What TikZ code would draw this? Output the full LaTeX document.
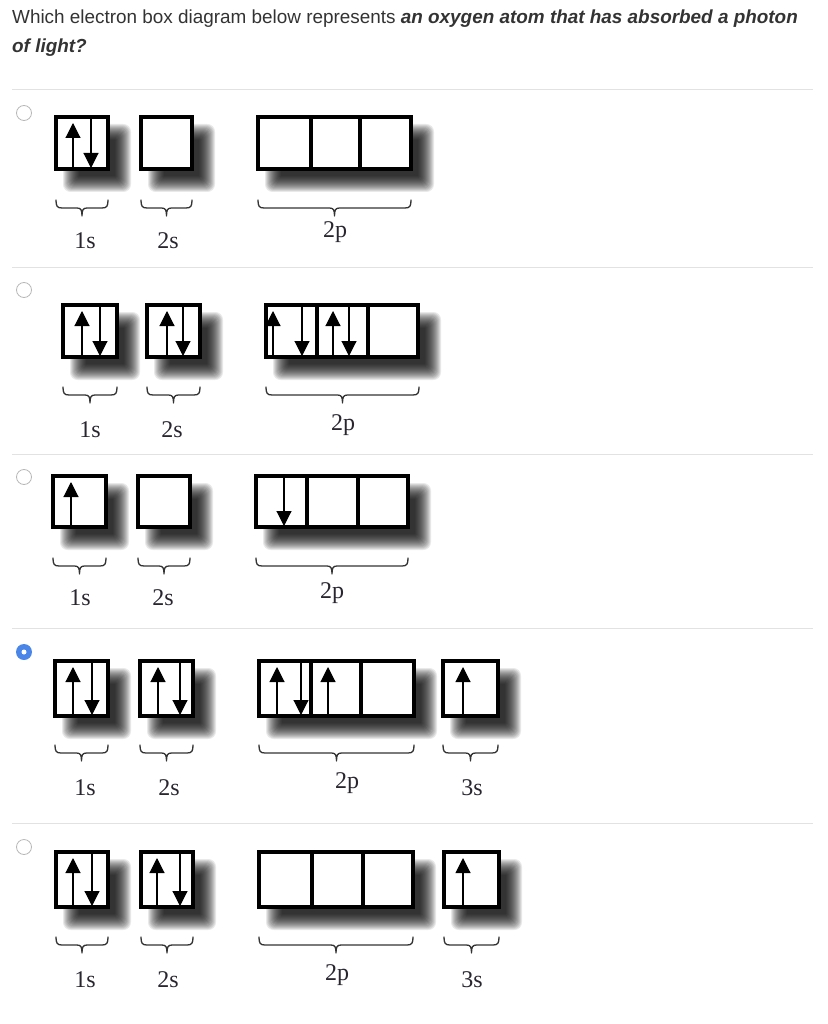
\documentclass[tikz,border=0pt]{standalone}
\usepackage{fontspec}
\setmainfont{Liberation Sans}
\newfontfamily\labfont{Liberation Serif}
\usetikzlibrary{arrows.meta}
\definecolor{txt}{HTML}{333333}
\definecolor{labc}{HTML}{2A2630}
\definecolor{sep}{HTML}{E2E2E2}
\definecolor{radio}{HTML}{B8B8B8}
\definecolor{selblue}{HTML}{4A86E8}
\tikzset{
  boxline/.style={line width=3.2pt, draw=black, fill=white},
  divline/.style={line width=3.2pt, draw=black},
  elec/.style={line width=1.1pt, -{Triangle[width=15pt,length=15pt]}},
  brc/.style={draw=txt, line width=1.3pt, line cap=round, line join=round},
  lab/.style={font=\labfont\fontsize{24}{24}\selectfont, text=labc, anchor=base, inner sep=0pt},
  sepline/.style={draw=sep, line width=1pt},
  radiobtn/.style={draw=radio, fill=white, line width=0.8pt},
}
\newcommand\shd[4]{%
  \foreach \k in {-8,...,8}{%
    \pgfmathsetmacro\rc{0.45*(\k+9)}%
    \fill[black,opacity=0.085,rounded corners=\rc pt] ({#1+15-\k},{#2+15-\k}) rectangle ({#3+15+\k},{#4+15+\k});
  }}
\newcommand\obox[4]{\draw[boxline] (#1,#2) rectangle (#3,#4);}
\newcommand\divl[3]{\draw[divline] (#1,#2) -- (#1,#3);}
\newcommand\upa[3]{\draw[elec] (#1,{#3-2}) -- (#1,{#2+6});}
\newcommand\dna[3]{\draw[elec] (#1,{#2+2}) -- (#1,{#3-1});}
% brace: x1 x2 ytop
\newcommand\brc[3]{%
  \draw[brc] (#1,#3) .. controls (#1,{#3+6}) and ({#1+1},{#3+8}) .. ({#1+6},{#3+8})
    -- ({(#1+#2)/2-5},{#3+8}) .. controls ({(#1+#2)/2-1},{#3+8}) and ({(#1+#2)/2},{#3+10}) .. ({(#1+#2)/2},{#3+16})
    .. controls ({(#1+#2)/2},{#3+10}) and ({(#1+#2)/2+1},{#3+8}) .. ({(#1+#2)/2+5},{#3+8})
    -- ({#2-6},{#3+8}) .. controls ({#2-1},{#3+8}) and (#2,{#3+6}) .. (#2,#3);}
\begin{document}
\begin{tikzpicture}[x=1pt,y=-1pt]
\useasboundingbox (0,0) rectangle (827,1024);
\fill[white] (0,0) rectangle (827,1024);

% title
\node[anchor=base west, inner sep=0pt, text=txt, font=\fontsize{18.9}{22}\selectfont] (title1) at (12,24)
  {Which electron box diagram below represents \textbf{\textit{an oxygen atom that has absorbed a photon}}};
\node[anchor=base west, inner sep=0pt, text=txt, font=\fontsize{18.9}{22}\selectfont] (title2) at (12,53)
  {\textbf{\textit{of light?}}};

% separators
\foreach \yy/\nm in {90/s1,267/s2,454/s3,628/s4,823/s5}{
  \coordinate (\nm a) at (12,\yy); \coordinate (\nm b) at (813,\yy);
  \draw[sepline] (\nm a) -- (\nm b);
}

% radio buttons
\foreach \yy/\nm in {113/r1,290/r2,477/r3,847/r5}{
  \node[radiobtn, circle, minimum size=15pt, inner sep=0pt] (\nm) at (24,\yy) {};
}
\node[circle, fill=selblue, minimum size=16pt, inner sep=0pt] (r4) at (24,652) {};
\node[circle, fill=white, minimum size=5pt, inner sep=0pt] (r4dot) at (24,652) {};

% ---------- Option 1 ----------
\shd{56}{117}{108}{169}\shd{141}{117}{192}{169}\shd{258}{117}{411}{169}
\obox{56}{117}{108}{169}\obox{141}{117}{192}{169}\obox{258}{117}{411}{169}
\divl{311}{117}{169}\divl{360}{117}{169}
\upa{73}{117}{169}\dna{91}{117}{169}
\brc{56}{108}{200}\brc{141}{192}{200}\brc{258}{411}{200}
\node[lab] (a1s) at (85,248) {1s};
\node[lab] (a2s) at (168,248) {2s};
\node[lab] (a2p) at (335,237) {2p};

% ---------- Option 2 ----------
\shd{63}{305}{117}{357}\shd{147}{305}{200}{357}\shd{266}{305}{418}{357}
\obox{63}{305}{117}{357}\obox{147}{305}{200}{357}\obox{266}{305}{418}{357}
\divl{317}{305}{357}\divl{368}{305}{357}
\upa{82}{305}{357}\dna{100}{305}{357}
\upa{167}{305}{357}\dna{183}{305}{357}
\upa{273}{305}{357}\dna{302}{305}{357}
\upa{333}{305}{357}\dna{349}{305}{357}
\brc{63}{117}{387}\brc{147}{200}{387}\brc{266}{419}{387}
\node[lab] (b1s) at (90,437) {1s};
\node[lab] (b2s) at (172,437) {2s};
\node[lab] (b2p) at (343,430) {2p};

% ---------- Option 3 ----------
\shd{53}{476}{106}{527}\shd{138}{476}{190}{527}\shd{256}{476}{408}{527}
\obox{53}{476}{106}{527}\obox{138}{476}{190}{527}\obox{256}{476}{408}{527}
\divl{307}{476}{527}\divl{358}{476}{527}
\upa{71}{476}{527}
\dna{284}{476}{527}
\brc{53}{106}{558}\brc{138}{190}{558}\brc{256}{408}{558}
\node[lab] (c1s) at (80,605) {1s};
\node[lab] (c2s) at (163,605) {2s};
\node[lab] (c2p) at (332,598) {2p};

% ---------- Option 4 ----------
\shd{55}{661}{108}{716}\shd{140}{661}{193}{716}\shd{259}{661}{414}{716}\shd{443}{661}{498}{716}
\obox{55}{661}{108}{716}\obox{140}{661}{193}{716}\obox{259}{661}{414}{716}\obox{443}{661}{498}{716}
\divl{311}{661}{716}\divl{361}{661}{716}
\upa{73}{661}{716}\dna{92}{661}{716}
\upa{158}{661}{716}\dna{180}{661}{716}
\upa{277}{661}{716}\dna{301}{661}{716}
\upa{328}{661}{716}
\upa{463}{661}{716}
\brc{55}{108}{745}\brc{140}{193}{745}\brc{259}{414}{745}\brc{443}{498}{745}
\node[lab] (d1s) at (85,795) {1s};
\node[lab] (d2s) at (169,795) {2s};
\node[lab] (d2p) at (347,788) {2p};
\node[lab] (d3s) at (472,795) {3s};

% ---------- Option 5 ----------
\shd{56}{852}{108}{907}\shd{141}{852}{193}{907}\shd{259}{852}{413}{907}\shd{444}{852}{499}{907}
\obox{56}{852}{108}{907}\obox{141}{852}{193}{907}\obox{259}{852}{413}{907}\obox{444}{852}{499}{907}
\divl{312}{852}{907}\divl{363}{852}{907}
\upa{73}{852}{907}\dna{92}{852}{907}
\upa{157}{852}{907}\dna{180}{852}{907}
\upa{463}{852}{907}
\brc{56}{108}{937}\brc{141}{193}{937}\brc{259}{413}{937}\brc{444}{499}{937}
\node[lab] (e1s) at (85,987) {1s};
\node[lab] (e2s) at (168,987) {2s};
\node[lab] (e2p) at (337,980) {2p};
\node[lab] (e3s) at (472,987) {3s};
\end{tikzpicture}
\end{document}
